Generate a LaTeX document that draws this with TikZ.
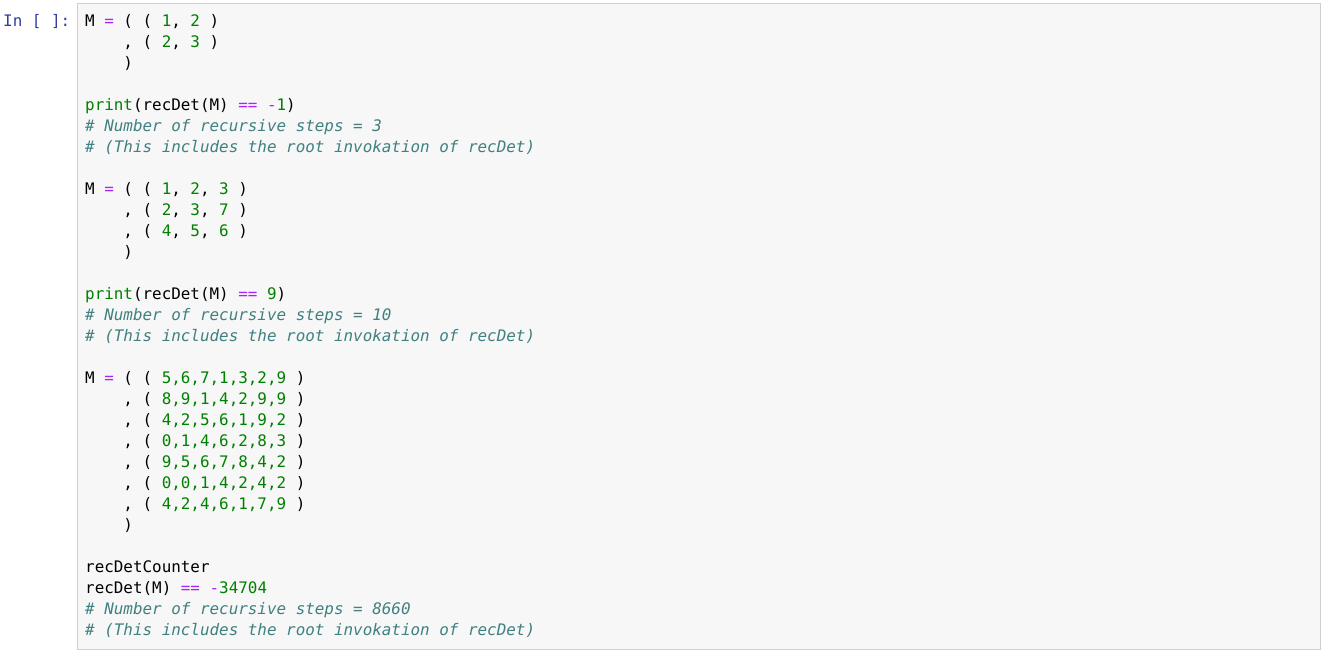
\documentclass[tikz,border=0pt]{standalone}
\usepackage{fontspec}
\setmonofont{DejaVu Sans Mono}
\definecolor{pur}{HTML}{AA22FF}
\definecolor{grn}{HTML}{008000}
\definecolor{cmt}{HTML}{408080}
\definecolor{prm}{HTML}{303F9F}
\newcommand{\Pq}[1]{\textcolor{pur}{#1}}
\newcommand{\Nq}[1]{\textcolor{grn}{#1}}
\newcommand{\Cq}[1]{\textcolor{cmt}{\itshape #1}}
\tikzset{code/.style={anchor=base west,inner sep=0pt,font=\fontsize{15.9}{19}\ttfamily}}
\begin{document}
\begin{tikzpicture}[x=1pt,y=-1pt]
\useasboundingbox (0,0) rectangle (1323,653);
\draw[fill=black!3,draw=black!19] (77.5,3.5) rectangle (1320.5,649.5);
\node[code,text=prm] (p) at (3,26) {In~[~]:};
\foreach \i/\t in {
0/{M~\Pq{=}~(~(~\Nq{1},~\Nq{2}~)},
1/{~~~~,~(~\Nq{2},~\Nq{3}~)},
2/{~~~~)},
4/{\Nq{print}(recDet(M)~\Pq{==}~\Pq{-}\Nq{1})},
5/{\Cq{\#~Number~of~recursive~steps~=~3}},
6/{\Cq{\#~(This~includes~the~root~invokation~of~recDet)}},
8/{M~\Pq{=}~(~(~\Nq{1},~\Nq{2},~\Nq{3}~)},
9/{~~~~,~(~\Nq{2},~\Nq{3},~\Nq{7}~)},
10/{~~~~,~(~\Nq{4},~\Nq{5},~\Nq{6}~)},
11/{~~~~)},
13/{\Nq{print}(recDet(M)~\Pq{==}~\Nq{9})},
14/{\Cq{\#~Number~of~recursive~steps~=~10}},
15/{\Cq{\#~(This~includes~the~root~invokation~of~recDet)}},
17/{M~\Pq{=}~(~(~\Nq{5,6,7,1,3,2,9}~)},
18/{~~~~,~(~\Nq{8,9,1,4,2,9,9}~)},
19/{~~~~,~(~\Nq{4,2,5,6,1,9,2}~)},
20/{~~~~,~(~\Nq{0,1,4,6,2,8,3}~)},
21/{~~~~,~(~\Nq{9,5,6,7,8,4,2}~)},
22/{~~~~,~(~\Nq{0,0,1,4,2,4,2}~)},
23/{~~~~,~(~\Nq{4,2,4,6,1,7,9}~)},
24/{~~~~)},
26/{recDetCounter},
27/{recDet(M)~\Pq{==}~\Pq{-}\Nq{34704}},
28/{\Cq{\#~Number~of~recursive~steps~=~8660}},
29/{\Cq{\#~(This~includes~the~root~invokation~of~recDet)}}}
  \node[code] (l\i) at (85,{26+21*\i}) {\t};
\end{tikzpicture}
\end{document}
